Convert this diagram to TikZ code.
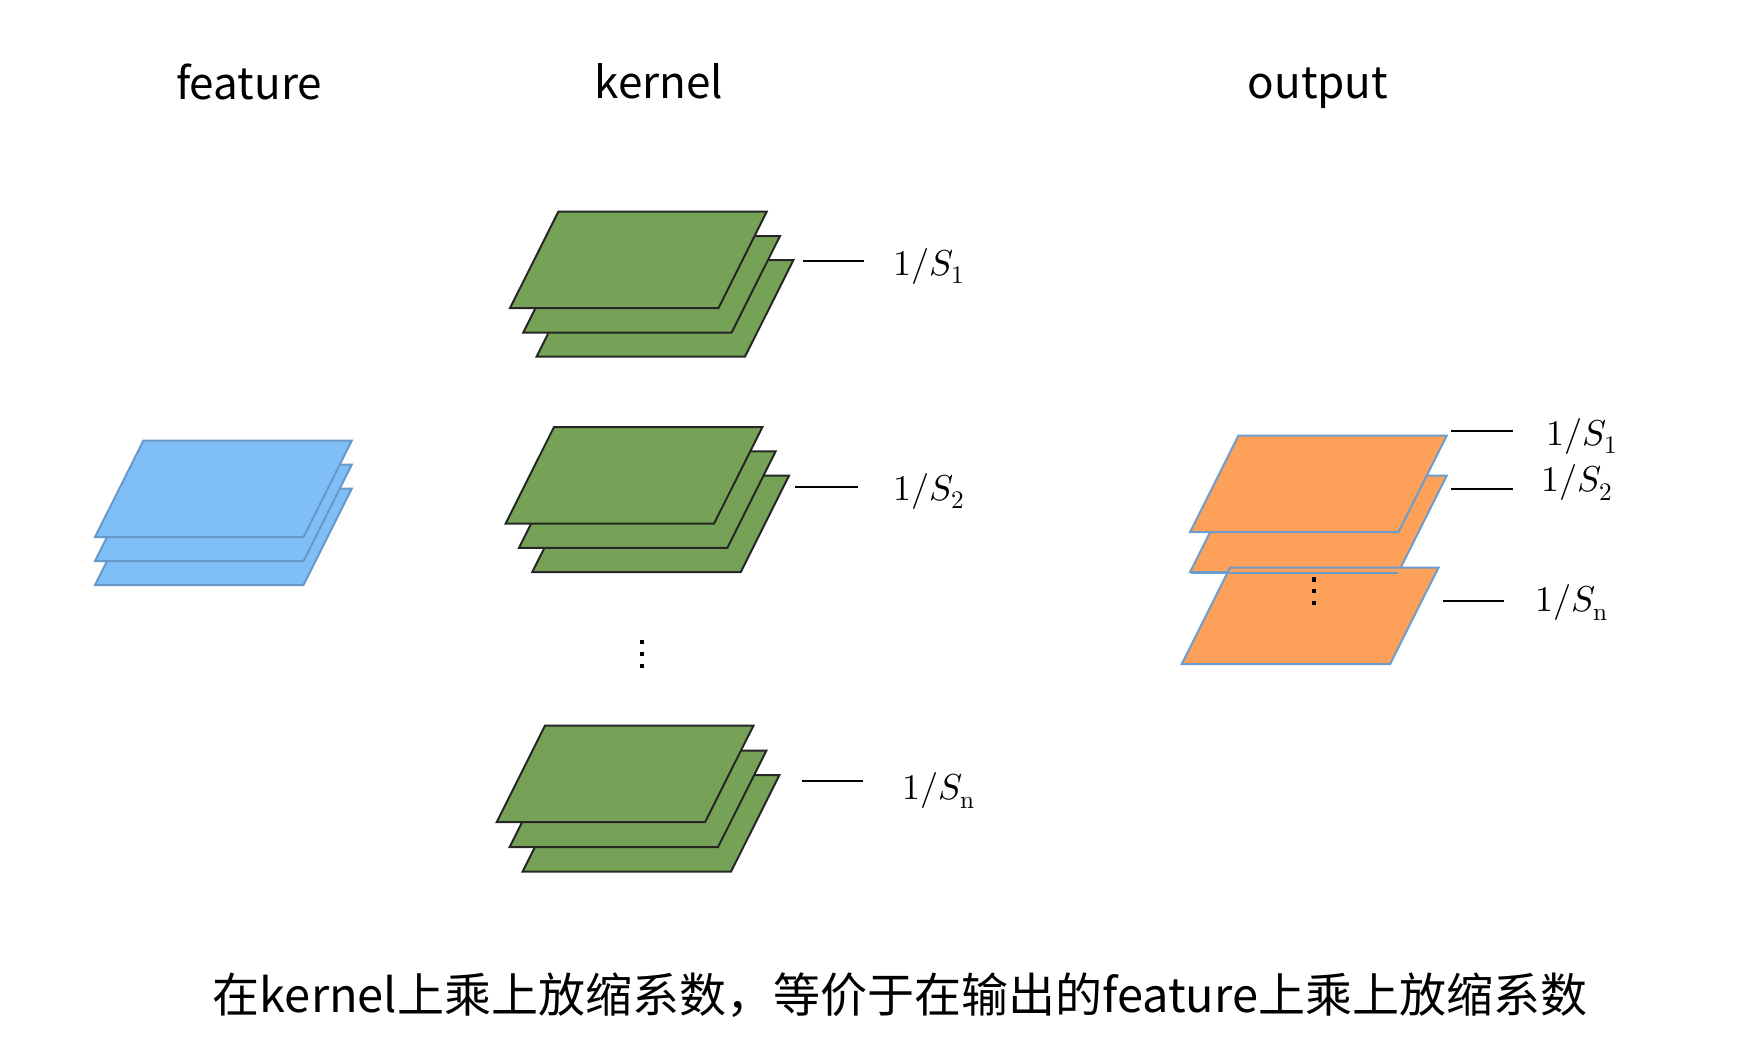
\documentclass[tikz,border=0pt]{standalone}
\usepackage{fontspec}
\usepackage{unicode-math}
\setmainfont{Noto Sans CJK SC}
\setmathfont{Latin Modern Math}
\definecolor{kgreen}{RGB}{118,162,87}
\definecolor{kedge}{RGB}{38,38,38}
\definecolor{fblue}{RGB}{127,190,246}
\definecolor{fedge}{RGB}{104,152,202}
\definecolor{oorange}{RGB}{252,160,90}
\definecolor{oedge}{RGB}{108,156,205}
\tikzset{
  kplane/.style={fill=kgreen,draw=kedge,line width=2pt,line join=miter},
  fplane/.style={fill=fblue,draw=fedge,line width=2pt,line join=miter},
  oplane/.style={fill=oorange,draw=oedge,line width=2pt,line join=miter},
  titletext/.style={anchor=base,inner sep=0pt,font=\fontsize{44}{53}\selectfont},
  mathlabel/.style={anchor=base west,inner sep=0pt,font=\fontsize{36}{43}\selectfont},
  tick/.style={draw=black,line width=2pt},
  dotmark/.style={fill=black},
}
\newcommand\plane[3]{\draw[#3] (#1,#2) -- ++(208.4,0) -- ++(-48.3,96.5) -- ++(-208.4,0) -- cycle;}
\newcommand\vdotsmark[3]{%
  \fill[dotmark] (#1-2.2,#2-2.2) rectangle ++(4.4,4.4);
  \fill[dotmark] (#1-2.2,#2+#3-2.2) rectangle ++(4.4,4.4);
  \fill[dotmark] (#1-2.2,#2+2*#3-2.2) rectangle ++(4.4,4.4);}
\begin{document}
\begin{tikzpicture}[x=1pt,y=-1pt]
\useasboundingbox (0,0) rectangle (1738,1052);
% titles
\node[titletext] (tfeature) at (249,99) {feature};
\node[titletext] (tkernel) at (659,98) {kernel};
\node[titletext] (toutput) at (1318,98) {output};
% feature stack
\plane{143.3}{488.7}{fplane}
\plane{143.3}{464.7}{fplane}
\plane{143.3}{440.7}{fplane}
% kernel group 1
\plane{585}{260}{kplane}
\plane{571.6}{236}{kplane}
\plane{558.3}{211.7}{kplane}
% kernel group 2
\plane{580.6}{475.6}{kplane}
\plane{567.3}{451.3}{kplane}
\plane{554}{427}{kplane}
% kernel group n
\plane{571}{775}{kplane}
\plane{558}{750.5}{kplane}
\plane{545}{725.7}{kplane}
% kernel dots
\vdotsmark{641.7}{642}{12}
% output stack
\plane{1238.3}{475.7}{oplane}
\plane{1230}{567.7}{oplane}
\plane{1238.3}{435.7}{oplane}
\draw[draw=oedge,line width=2pt] (1190.7,573.3) -- (1398.3,573.3);
\vdotsmark{1314}{579.3}{11.9}
% ticks
\coordinate (k1a) at (803,261); \coordinate (k1b) at (864,261);
\coordinate (k2a) at (795,486.8); \coordinate (k2b) at (858,486.8);
\coordinate (kna) at (802,781); \coordinate (knb) at (863,781);
\coordinate (o1a) at (1451,430.7); \coordinate (o1b) at (1512.5,430.7);
\coordinate (o2a) at (1451,489); \coordinate (o2b) at (1512.5,489);
\coordinate (ona) at (1443,601); \coordinate (onb) at (1504,601);
\draw[tick] (k1a) -- (k1b);
\draw[tick] (k2a) -- (k2b);
\draw[tick] (kna) -- (knb);
\draw[tick] (o1a) -- (o1b);
\draw[tick] (o2a) -- (o2b);
\draw[tick] (ona) -- (onb);
% labels
\node[mathlabel] (lk1) at (893,275) {$1/S_1$};
\node[mathlabel] (lk2) at (893,500) {$1/S_2$};
\node[mathlabel] (lkn) at (902,799.5) {$1/S_{\symup{n}}$};
\node[mathlabel] (lo1) at (1546,445) {$1/S_1$};
\node[mathlabel] (lo2) at (1541,491.7) {$1/S_2$};
\node[mathlabel] (lon) at (1535,611.7) {$1/S_{\symup{n}}$};
% caption
\node[anchor=base,inner sep=0pt,font=\fontsize{47}{56}\selectfont] (caption) at (900,1012) {在kernel上乘上放缩系数，等价于在输出的feature上乘上放缩系数};
\end{tikzpicture}
\end{document}
